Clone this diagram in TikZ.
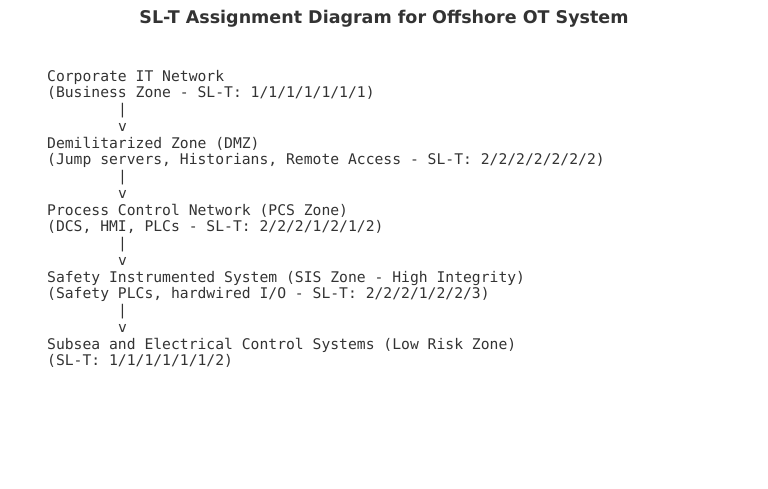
\documentclass[tikz,border=0pt]{standalone}
\usepackage{fontspec}
\setmainfont{DejaVu Sans}
\newfontfamily\monof{DejaVu Sans Mono}
\definecolor{ink}{HTML}{333333}
\begin{document}
\begin{tikzpicture}[x=1pt,y=1pt,
  ln/.style={anchor=base west,inner sep=0pt,text=ink,font=\monof\fontsize{14.7}{16}\selectfont},
  ttl/.style={anchor=base,inner sep=0pt,text=ink,font=\bfseries\fontsize{17.5}{20}\selectfont}]
\useasboundingbox (0,0) rectangle (768,-488);
\node[ttl] (title) at (384,-23) {SL-T Assignment Diagram for Offshore OT System};
\foreach \t [count=\i from 0] in {
Corporate IT Network,
(Business Zone - SL-T: 1/1/1/1/1/1/1),
\ \ \ \ \ \ \ \ |,
\ \ \ \ \ \ \ \ v,
Demilitarized Zone (DMZ),
{(Jump servers, Historians, Remote Access - SL-T: 2/2/2/2/2/2/2)},
\ \ \ \ \ \ \ \ |,
\ \ \ \ \ \ \ \ v,
Process Control Network (PCS Zone),
{(DCS, HMI, PLCs - SL-T: 2/2/2/1/2/1/2)},
\ \ \ \ \ \ \ \ |,
\ \ \ \ \ \ \ \ v,
Safety Instrumented System (SIS Zone - High Integrity),
{(Safety PLCs, hardwired I/O - SL-T: 2/2/2/1/2/2/3)},
\ \ \ \ \ \ \ \ |,
\ \ \ \ \ \ \ \ v,
Subsea and Electrical Control Systems (Low Risk Zone),
(SL-T: 1/1/1/1/1/1/2)}
  \node[ln] (l\i) at (47,{-81-16.75*\i}) {\t};
\end{tikzpicture}
\end{document}
